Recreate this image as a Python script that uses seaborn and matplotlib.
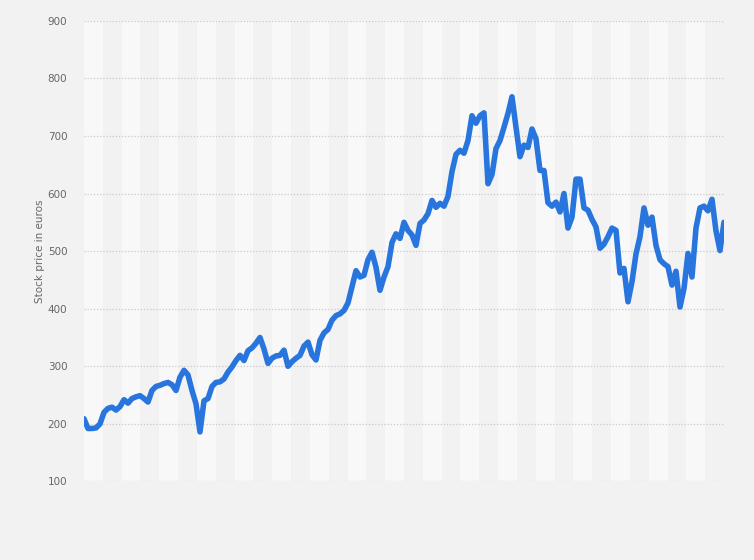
import numpy as np
import pandas as pd
import matplotlib
matplotlib.use("Agg")
import matplotlib.pyplot as plt
import seaborn as sns

# =====================
# DATA (evenly spaced in time)
# =====================
prices = [
    209, 192, 192, 193, 200, 220, 227, 229, 224, 230,
    242, 236, 244, 247, 249, 244, 238, 258, 265, 267,
    270, 272, 268, 258, 281, 293, 285, 258, 235, 186,
    240, 244, 265, 272, 273, 278, 290, 299, 310, 319,
    310, 327, 332, 340, 350, 330, 305, 314, 318, 319,
    328, 300, 308, 314, 319, 335, 342, 320, 311, 345,
    358, 364, 380, 388, 391, 397, 410, 438, 466, 455,
    458, 485, 498, 472, 432, 455, 473, 515, 530, 522,
    550, 536, 528, 510, 548, 554, 565, 588, 576, 583,
    578, 595, 638, 668, 675, 670, 692, 735, 722, 735,
    740, 617, 633, 678, 692, 715, 739, 768, 715, 664,
    684, 680, 712, 695, 640, 640, 584, 578, 585, 568,
    600, 540, 559, 625, 625, 575, 571, 555, 542, 505,
    512, 525, 540, 536, 462, 470, 412, 447, 495, 525,
    575, 545, 559, 510, 485, 478, 473, 441, 465, 403,
    435, 496, 455, 540, 575, 578, 570, 590, 535, 501,
    550,
]
period = list(range(len(prices)))
y_ticks = [100, 200, 300, 400, 500, 600, 700, 800, 900]
y_label = "Stock price in euros"
n_stripes = 34

df = pd.DataFrame({"period": period, "price": prices})

# =====================
# STYLE
# =====================
BG = "#f2f2f2"
sns.set_style("white")
plt.rcParams["font.family"] = ["DejaVu Sans"]

fig = plt.figure(figsize=(7.54, 5.6), dpi=100, facecolor=BG)
ax = fig.add_axes([0.1114, 0.1402, 0.8488, 0.8228])
ax.set_facecolor(BG)

x_max = period[-1]
ax.set_xlim(0, x_max)
ax.set_ylim(y_ticks[0], y_ticks[-1])

# alternating vertical bands
edges = np.linspace(0, x_max, n_stripes + 1)
for i in range(n_stripes):
    if i % 2 == 0:
        ax.axvspan(edges[i], edges[i + 1], color="#f8f8f8", lw=0, zorder=0)

# dotted horizontal grid
for t in y_ticks:
    ax.axhline(t, color="#c9c9c9", lw=0.9, ls=(0, (1, 1.5)), zorder=1)

sns.lineplot(data=df, x="period", y="price", ax=ax, color="#2876dd",
             lw=4, zorder=3, solid_joinstyle="round", solid_capstyle="round")

ax.set_yticks(y_ticks)
ax.set_yticklabels([str(t) for t in y_ticks], fontsize=7.5, color="#666666")
ax.set_xticks([])
ax.tick_params(axis="y", length=0, pad=12)
ax.set_xlabel("")
ax.set_ylabel(y_label, fontsize=7.5, color="#666666", labelpad=2)
for s in ax.spines.values():
    s.set_visible(False)

fig.savefig("out.png", dpi=100, facecolor=BG)
